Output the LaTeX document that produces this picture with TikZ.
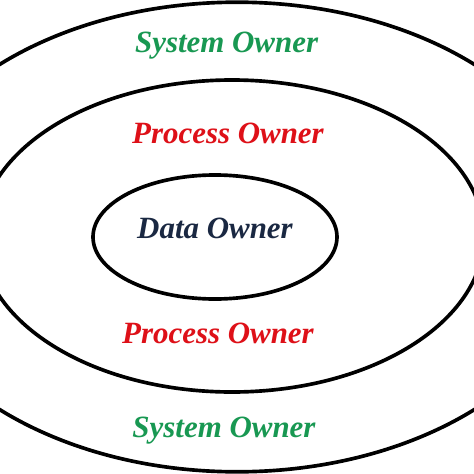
\documentclass[tikz,border=0pt]{standalone}
\usepackage{fontspec}
\setmainfont{Liberation Serif}
\definecolor{sysgreen}{RGB}{24,152,82}
\definecolor{procred}{RGB}{222,16,24}
\definecolor{datanavy}{RGB}{26,40,66}
\begin{document}
\begin{tikzpicture}[ring/.style={line width=2.6pt},
	owner/.style={anchor=base, font=\fontsize{22}{26}\selectfont\bfseries\itshape}]
	\clip (-5.925,-5.925) rectangle (5.925,5.925);
	\fill[white] (-5.925,-5.925) rectangle (5.925,5.925);
	
	\draw[ring] (0,0) ellipse (8.75 and 5.87);
	\draw[ring] (-0.125,0.025) ellipse (6.3 and 3.9);
	\draw[ring] (-0.55,0) ellipse (3.05 and 1.55);
	
	\node[owner, sysgreen] (systop) at (-0.26,4.625) {System Owner};
	\node[owner, procred] (proctop) at (-0.225,2.35) {Process Owner};
	\node[owner, datanavy] (data) at (-0.55,-0.025) {Data Owner};
	\node[owner, procred] (procbot) at (-0.475,-2.65) {Process Owner};
	\node[owner, sysgreen] (sysbot) at (-0.325,-5.0) {System Owner};
\end{tikzpicture}
\end{document}
